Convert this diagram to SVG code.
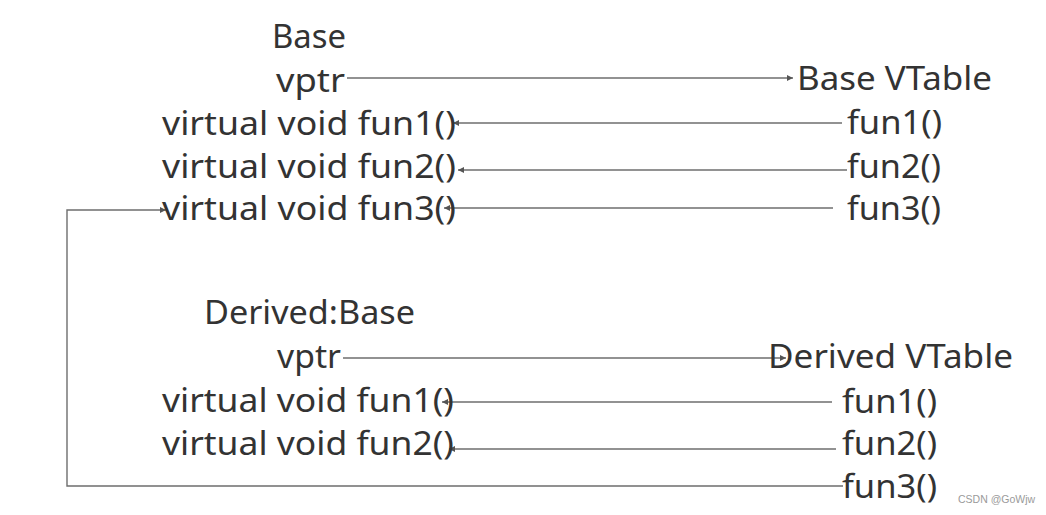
<svg xmlns="http://www.w3.org/2000/svg" width="1046" height="515" viewBox="0 0 1046 515">
<style>
.t{font-family:"Noto Sans","Open Sans","DejaVu Sans",sans-serif;font-size:32px;fill:#333333}
.w{font-family:"Liberation Sans",Arial,sans-serif;font-size:10.5px;fill:#9a9a9a}
.c{fill:none;stroke:#6e6e6e;stroke-width:1.4}
</style>
<defs>
<marker id="ah" markerUnits="userSpaceOnUse" markerWidth="7" markerHeight="6" refX="6" refY="3" orient="auto">
<path d="M0,0 L6,3 L0,6 z" fill="#555555"/>
</marker>
</defs>
<rect width="1046" height="515" fill="#ffffff"/>
<g id="connectors">
<path class="c" d="M347,78 H793" marker-end="url(#ah)"/>
<path class="c" d="M842,123 H453" marker-end="url(#ah)"/>
<path class="c" d="M847,170 H458" marker-end="url(#ah)"/>
<path class="c" d="M833,208 H444" marker-end="url(#ah)"/>
<path class="c" d="M843,486 H67 V210 H166" marker-end="url(#ah)"/>
<path class="c" d="M343,358 H786" marker-end="url(#ah)"/>
<path class="c" d="M832,402 H442" marker-end="url(#ah)"/>
<path class="c" d="M836,449 H449" marker-end="url(#ah)"/>
</g>
<g id="base-title"><text class="t" x="272" y="48" textLength="74" lengthAdjust="spacingAndGlyphs">Base</text></g>
<g id="base-vptr"><text class="t" x="276" y="92" textLength="69" lengthAdjust="spacingAndGlyphs">vptr</text></g>
<g id="base-fun1"><text class="t" x="162" y="135" textLength="294" lengthAdjust="spacingAndGlyphs">virtual void fun1()</text></g>
<g id="base-fun2"><text class="t" x="162" y="178" textLength="294" lengthAdjust="spacingAndGlyphs">virtual void fun2()</text></g>
<g id="base-fun3"><text class="t" x="162" y="220" textLength="294" lengthAdjust="spacingAndGlyphs">virtual void fun3()</text></g>
<g id="base-vtable"><text class="t" x="797" y="90" textLength="195" lengthAdjust="spacingAndGlyphs">Base VTable</text></g>
<g id="base-vt-fun1"><text class="t" x="847" y="134" textLength="95" lengthAdjust="spacingAndGlyphs">fun1()</text></g>
<g id="base-vt-fun2"><text class="t" x="847" y="178" textLength="94" lengthAdjust="spacingAndGlyphs">fun2()</text></g>
<g id="base-vt-fun3"><text class="t" x="847" y="220" textLength="94" lengthAdjust="spacingAndGlyphs">fun3()</text></g>
<g id="derived-title"><text class="t" x="204" y="324" textLength="211" lengthAdjust="spacingAndGlyphs">Derived:Base</text></g>
<g id="derived-vptr"><text class="t" x="277" y="368" textLength="64" lengthAdjust="spacingAndGlyphs">vptr</text></g>
<g id="derived-fun1"><text class="t" x="162" y="412" textLength="292" lengthAdjust="spacingAndGlyphs">virtual void fun1()</text></g>
<g id="derived-fun2"><text class="t" x="162" y="455" textLength="292" lengthAdjust="spacingAndGlyphs">virtual void fun2()</text></g>
<g id="derived-vtable"><text class="t" x="768" y="368" textLength="245" lengthAdjust="spacingAndGlyphs">Derived VTable</text></g>
<g id="derived-vt-fun1"><text class="t" x="842" y="413" textLength="95" lengthAdjust="spacingAndGlyphs">fun1()</text></g>
<g id="derived-vt-fun2"><text class="t" x="842" y="455" textLength="95" lengthAdjust="spacingAndGlyphs">fun2()</text></g>
<g id="derived-vt-fun3"><text class="t" x="842" y="498" textLength="95" lengthAdjust="spacingAndGlyphs">fun3()</text></g>
<g id="watermark"><text class="w" x="958" y="503">CSDN @GoWjw</text></g>
</svg>
